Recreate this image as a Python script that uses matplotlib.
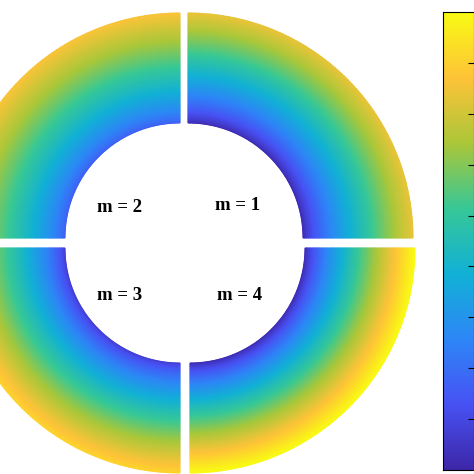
import numpy as np
import matplotlib
matplotlib.use("Agg")
import matplotlib.pyplot as plt
from matplotlib.colors import LinearSegmentedColormap

labels = ["m = 1", "m = 2", "m = 3", "m = 4"]
inner_values = [0.02, 0.18, 0.08, 0.02]
outer_values = [0.82, 0.85, 0.90, 1.00]
angle_starts = [0, 90, 180, 270]

parula_pts = [(0.2422,0.1504,0.6603),(0.2810,0.3228,0.9579),(0.1786,0.5289,0.9682),
              (0.0689,0.6948,0.8394),(0.2161,0.7843,0.5923),(0.6720,0.7793,0.2227),
              (0.9970,0.7659,0.2199),(0.9769,0.9839,0.0805)]
cmap = LinearSegmentedColormap.from_list("parula", parula_pts)

fig = plt.figure(figsize=(4.74, 4.74), dpi=100)
ax = fig.add_axes([0, 0, 1, 1])
ax.set_xlim(0, 474); ax.set_ylim(474, 0); ax.axis("off")

cx, cy = 184, 243
r_in, r_out = 115, 225
offsets = [(4, -5), (-4, -5), (-4, 5), (6, 5)]
text_pos = [(238, 205), (120, 207), (120, 295), (240, 295)]
for lab, v0, v1, a0, (dx, dy), tp in zip(labels, inner_values, outer_values, angle_starts, offsets, text_pos):
    th = np.radians(np.linspace(a0, a0 + 90, 120))
    r = np.linspace(r_in, r_out, 60)
    T, R = np.meshgrid(th, r)
    X = cx + dx + R * np.cos(T)
    Y = cy + dy - R * np.sin(T)
    V = v0 + (v1 - v0) * ((R - r_in) / (r_out - r_in)) ** 0.8
    ax.pcolormesh(X, Y, V, cmap=cmap, vmin=0, vmax=1, shading="gouraud")
    ax.text(tp[0], tp[1], lab, ha="center", va="center", fontsize=13.5,
            fontweight="bold", family="Liberation Serif")

cax = fig.add_axes([443/474, 1 - 470/474, 31/474, 458/474])
grad = np.linspace(0, 1, 256).reshape(-1, 1)
cax.imshow(grad, cmap=cmap, aspect="auto", origin="lower", extent=[0, 1, 0, 1])
cax.set_xticks([])
cax.yaxis.tick_right()
cax.set_yticks(np.linspace(0, 1, 10)[1:-1])
cax.set_yticklabels([])
cax.tick_params(axis="y", direction="in", length=4)
fig.savefig("out.png", dpi=100)
